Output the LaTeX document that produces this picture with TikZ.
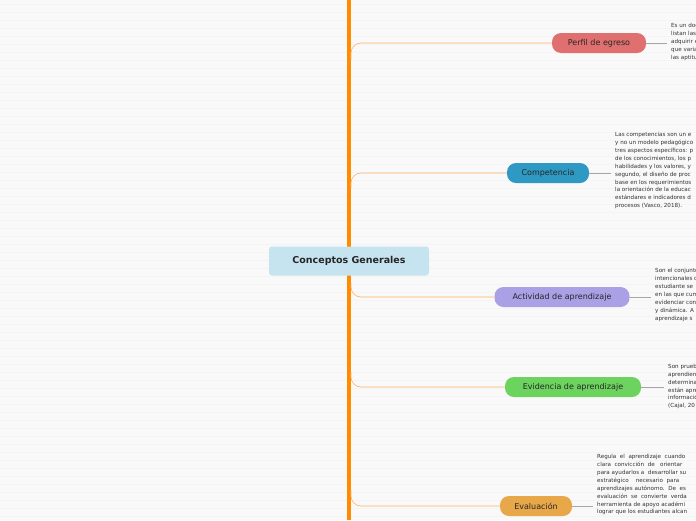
\documentclass[tikz,border=0pt]{standalone}
\usepackage{fontspec}
\setmainfont{DejaVu Sans}
\begin{document}
\begin{tikzpicture}[x=1pt,y=-1pt,
  topic/.style={rounded corners=9pt,minimum height=20pt,font=\fontsize{8}{9.5}\selectfont,text=black!85,inner xsep=8pt},
  branch/.style={draw=orange!60,line width=0.6pt,rounded corners=10pt},
  leaf/.style={draw=gray!70,line width=0.8pt},
  note/.style={anchor=north west,align=left,inner sep=0pt,font=\fontsize{5.6}{7.85}\selectfont,text=black!80}]
\useasboundingbox (0,0) rectangle (696,520);
\clip (0,0) rectangle (696,520);
\fill[gray!5] (0,0) rectangle (696,520);
\foreach \y in {4,12,...,520} \draw[gray!9,line width=0.3pt] (0,\y) -- (696,\y);
\draw[orange!90!yellow,line width=4.5pt] (349,0) -- (349,520);
\node[fill={rgb,255:red,197;green,228;blue,239},rounded corners=3pt,minimum width=160pt,minimum height=29pt,font=\bfseries\fontsize{9.5}{11}\selectfont,text=black!85] (c) at (349,261) {Conceptos Generales};
\node[topic,fill={rgb,255:red,224;green,112;blue,112},minimum width=94pt] (p) at (599,43) {Perfil de egreso};
\node[topic,fill={rgb,255:red,46;green,154;blue,196},minimum width=82pt] (k) at (548,173) {Competencia};
\node[topic,fill={rgb,255:red,170;green,160;blue,230},minimum width=135pt] (a) at (562,297) {Actividad de aprendizaje};
\node[topic,fill={rgb,255:red,108;green,211;blue,94},minimum width=136pt] (e) at (573,387) {Evidencia de aprendizaje};
\node[topic,fill={rgb,255:red,232;green,168;blue,74},minimum width=72pt] (v) at (536,506) {Evaluación};
\coordinate (tp) at (351,60); \coordinate (tk) at (351,188);
\coordinate (ta) at (351,283); \coordinate (te) at (351,372); \coordinate (tv) at (351,490);
\draw[branch] (tp) |- (p.west); \draw[branch] (tk) |- (k.west);
\draw[branch] (ta) |- (a.west); \draw[branch] (te) |- (e.west); \draw[branch] (tv) |- (v.west);
\node[note] (np) at (671,23.5) {Es un docu\\listan las c\\adquirir e\\que varia\\las aptitu};
\node[note] (nk) at (615,132.5) {Las competencias son un e\\y no un modelo pedagógico\\tres aspectos específicos: p\\de los conocimientos, los p\\habilidades y los valores, y\\segundo, el diseño de proc\\base en los requerimientos\\la orientación de la educac\\estándares e indicadores d\\procesos (Vasco, 2018).};
\node[note] (na) at (655,268.5) {Son el conjunto\\intencionales q\\estudiante se\\en las que cum\\evidenciar con\\y dinámica. A\\aprendizaje s};
\node[note] (ne) at (668,364) {Son prueba\\aprendiend\\determinar\\están apre\\informació\\(Cajal, 20};
\node[note] (nv) at (597,454.5) {Regula\ \ el\ \ aprendizaje\ \ cuando\\clara\ \ convicción\ \ de\ \ \ orientar\\para ayudarlos a\ \ desarrollar su\\estratégico\ \ \ \ necesario\ \ para\ \ \\aprendizajes autónomo.\ \ De\ \ es\\evaluación\ \ se\ \ convierte\ \ verda\\herramienta de apoyo académi\\lograr que los estudiantes alcan};
\draw[leaf] (p.east) -- (667,43);
\draw[leaf] (k.east) -- (611,173);
\draw[leaf] (a.east) -- (651,297);
\draw[leaf] (e.east) -- (664,387);
\draw[leaf] (v.east) -- (593,506);
\end{tikzpicture}
\end{document}
